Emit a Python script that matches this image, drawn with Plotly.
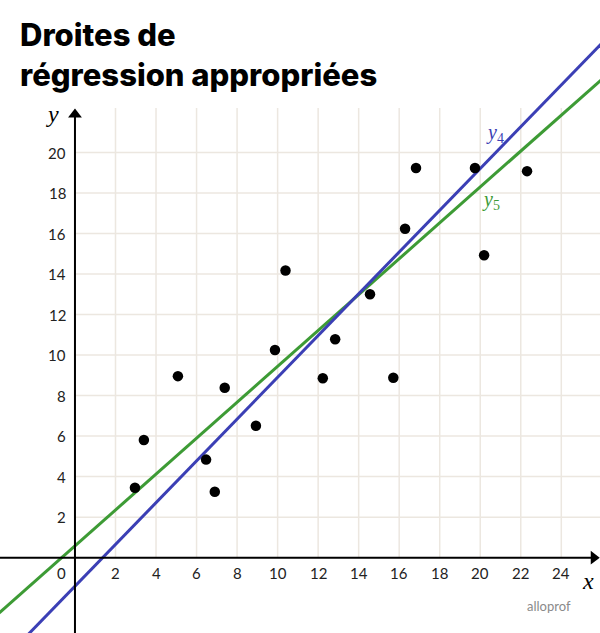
import plotly.graph_objects as go

# Data
x_points = [2.96, 3.40, 5.08, 6.47, 6.90, 7.39, 8.93, 9.87, 10.39, 12.23, 12.84, 14.56, 15.71, 16.29, 16.83, 19.74, 20.19, 22.31]
y_points = [3.45, 5.81, 8.96, 4.84, 3.25, 8.39, 6.51, 10.25, 14.18, 8.86, 10.78, 13.00, 8.88, 16.24, 19.24, 19.24, 14.93, 19.08]

# Regression lines y = m x + b
y4_slope, y4_intercept = 1.031, -1.41
y5_slope, y5_intercept = 0.886, 0.58

x_ticks = [2, 4, 6, 8, 10, 12, 14, 16, 18, 20, 22, 24]
y_ticks = [2, 4, 6, 8, 10, 12, 14, 16, 18, 20]

X_MIN, X_MAX = -3.70, 25.91
Y_MIN, Y_MAX = -3.72, 27.53
GRID_XMAX, GRID_YMAX = 26, 22.2

BLUE = "#3b3fb5"
GREEN = "#3d9b35"
GRID = "#ece7e0"

fig = go.Figure()

line_x = [X_MIN - 1, X_MAX + 1]
fig.add_trace(go.Scatter(x=line_x, y=[y5_slope * v + y5_intercept for v in line_x],
                         mode="lines", line=dict(color=GREEN, width=3), hoverinfo="skip"))
fig.add_trace(go.Scatter(x=line_x, y=[y4_slope * v + y4_intercept for v in line_x],
                         mode="lines", line=dict(color=BLUE, width=3), hoverinfo="skip"))
fig.add_trace(go.Scatter(x=x_points, y=y_points, mode="markers",
                         marker=dict(color="black", size=10.5)))

shapes = []
for yv in y_ticks:
    shapes.append(dict(type="line", x0=0, x1=GRID_XMAX, y0=yv, y1=yv,
                       line=dict(color=GRID, width=1.5), layer="below"))
for xv in x_ticks:
    shapes.append(dict(type="line", x0=xv, x1=xv, y0=0, y1=GRID_YMAX,
                       line=dict(color=GRID, width=1.5), layer="below"))
# Axes
shapes.append(dict(type="line", x0=X_MIN, x1=25.5, y0=0, y1=0,
                   line=dict(color="black", width=2), layer="above"))
shapes.append(dict(type="line", x0=0, x1=0, y0=Y_MIN, y1=21.8,
                   line=dict(color="black", width=2), layer="above"))

# Arrowheads
fig.add_trace(go.Scatter(x=[25.6], y=[0], mode="markers", hoverinfo="skip",
                         marker=dict(symbol="triangle-right", size=12, color="black")))
fig.add_trace(go.Scatter(x=[0], y=[21.88], mode="markers", hoverinfo="skip",
                         marker=dict(symbol="triangle-up", size=12, color="black")))

annotations = []
tick_font = dict(family="Lato, sans-serif", size=15, color="#222222")
for xv in x_ticks:
    annotations.append(dict(x=xv, y=-0.75, text=str(xv), showarrow=False,
                            font=tick_font, xanchor="center", yanchor="middle"))
for yv in y_ticks:
    annotations.append(dict(x=-0.35, y=yv, text=str(yv), showarrow=False,
                            font=tick_font, xanchor="right", yanchor="middle"))
annotations.append(dict(x=-0.65, y=-0.75, text="0", showarrow=False,
                        font=tick_font, xanchor="center", yanchor="middle"))

label_font = dict(family="Liberation Serif, serif", size=24, color="black")
annotations.append(dict(x=-1.1, y=21.9, text="<i>y</i>", showarrow=False,
                        font=label_font, xanchor="center", yanchor="middle"))
annotations.append(dict(x=25.3, y=-1.15, text="<i>x</i>", showarrow=False,
                        font=label_font, xanchor="center", yanchor="middle"))

annotations.append(dict(x=20.75, y=20.95, text="<i>y</i><sub>4</sub>", showarrow=False,
                        font=dict(family="Liberation Serif, serif", size=20, color=BLUE),
                        xanchor="center", yanchor="middle"))
annotations.append(dict(x=20.55, y=17.65, text="<i>y</i><sub>5</sub>", showarrow=False,
                        font=dict(family="Liberation Serif, serif", size=20, color=GREEN),
                        xanchor="center", yanchor="middle"))

# Title
annotations.append(dict(x=0.03, y=0.978, xref="paper", yref="paper",
                        text="Droites de<br>régression appropriées",
                        showarrow=False, align="left", xanchor="left", yanchor="top",
                        font=dict(family="Inter, sans-serif", size=31, color="black",
                                  weight=800)))
annotations.append(dict(x=0.955, y=0.042, xref="paper", yref="paper", text="alloprof",
                        showarrow=False, xanchor="right", yanchor="middle",
                        font=dict(family="Lato, sans-serif", size=13, color="#8a8a8a")))

fig.update_layout(
    width=600, height=633,
    margin=dict(l=0, r=0, t=0, b=0),
    paper_bgcolor="white", plot_bgcolor="white",
    showlegend=False,
    xaxis=dict(range=[X_MIN, X_MAX], visible=False, fixedrange=True),
    yaxis=dict(range=[Y_MIN, Y_MAX], visible=False, fixedrange=True),
    shapes=shapes,
    annotations=annotations,
)

fig.write_html("out.html", config={"displayModeBar": False},
               post_script="document.body.style.margin='0';document.body.style.overflow='hidden';")
